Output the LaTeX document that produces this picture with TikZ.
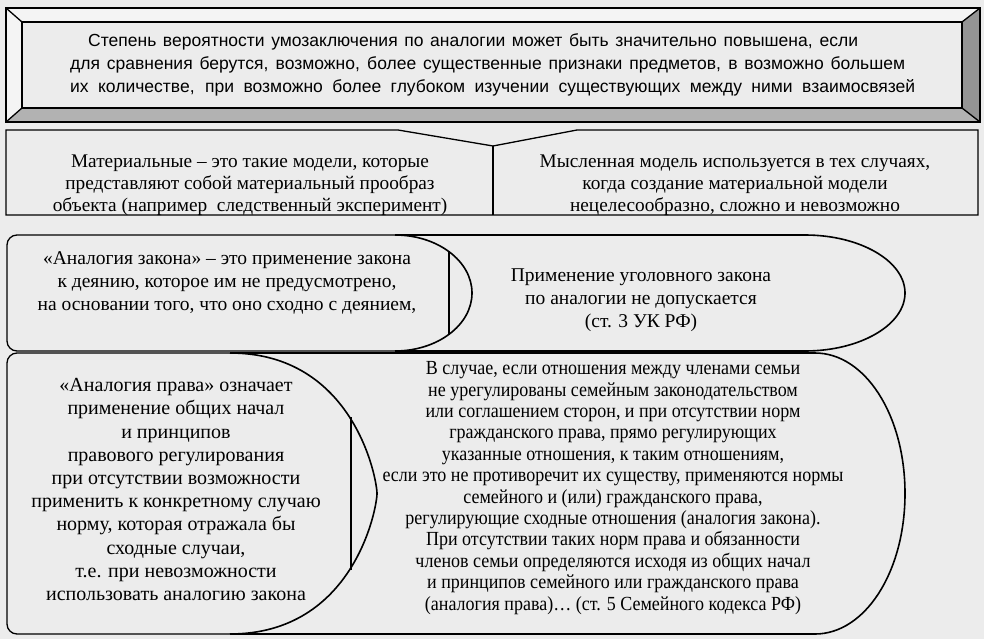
\documentclass[tikz,border=0pt]{standalone}
\usepackage{fontspec}
\setmainfont{Liberation Serif}
\newfontfamily\sansf{Liberation Sans}
\newfontfamily\condf[FakeStretch=0.9]{Liberation Serif}
\definecolor{bgc}{RGB}{236,236,236}
\definecolor{bevlight}{RGB}{244,244,244}
\begin{document}
\begin{tikzpicture}[x=1pt,y=-1pt,
  box/.style={draw=black, line width=1.3pt},
  curve/.style={draw=black, line width=1.6pt},
  txt/.style={align=center, inner sep=0pt, text=black}]
\fill[bgc] (0,0) rectangle (984,639);
\useasboundingbox (0,0) rectangle (984,639);
% top bevelled box
\fill[bevlight] (6,8) -- (980,8) -- (962,22) -- (22,22) -- (22,108) -- (6,122) -- cycle;
\fill[black!42] (962,22) -- (980,8) -- (980,122) -- (962,108) -- cycle;
\fill[black!30] (22,108) -- (962,108) -- (980,122) -- (6,122) -- cycle;
\draw[box] (6,8) rectangle (980,122);
\draw[box] (22,22) rectangle (962,108);
\draw[box] (6,8) -- (22,22) (980,8) -- (962,22) (980,122) -- (962,108) (6,122) -- (22,108);
\node[txt, align=left, anchor=west, font=\sansf\fontsize{17.5}{23}\selectfont] (t0) at (70,65)
 {\hspace*{18pt}\makebox[770pt][s]{Степень вероятности умозаключения по аналогии может быть значительно повышена, если}\\
  \makebox[835pt][s]{для сравнения берутся, возможно, более существенные признаки предметов, в возможно большем}\\
  \makebox[845pt][s]{их количестве, при возможно более глубоком изучении существующих между ними взаимосвязей}};
% row 2
\draw[box] (6,130) -- (398,130) -- (493,146) -- (577,130) -- (978,130) -- (978,215) -- (6,215) -- cycle;
\draw[box] (493,146) -- (493,215);
\node[txt, font=\fontsize{19.3}{22}\selectfont] (r2l) at (250,185)
 {Материальные – это такие модели, которые\\
  представляют собой материальный прообраз\\
  объекта (например~ следственный эксперимент)};
\node[txt, font=\fontsize{19.3}{22}\selectfont] (r2r) at (735,185)
 {Мысленная модель используется в тех случаях,\\
  когда создание материальной модели\\
  нецелесообразно, сложно и невозможно};
% row 3
\draw[box, rounded corners=10pt] (395,235) -- (7,235) -- (7,351) -- (395,351);
\draw[box] (395,235) -- (805,235) (395,351) -- (805,351);
\draw[curve] (395,235) .. controls (437.5,235) and (472,261) .. (472,293)
  .. controls (472,325) and (437.5,351) .. (395,351);
\draw[curve] (805,235) .. controls (860,235) and (905,261) .. (905,293)
  .. controls (905,325) and (860,351) .. (805,351);
\draw[box] (449,251) -- (449,335);
\node[txt, font=\fontsize{19.5}{23.3}\selectfont] (r3l) at (227,283)
 {«Аналогия закона» – это применение закона\\
  к деянию, которое им не предусмотрено,\\
  на основании того, что оно сходно с деянием,};
\node[txt, font=\fontsize{19.5}{23.3}\selectfont] (r3r) at (641,300)
 {Применение уголовного закона\\
  по аналогии не допускается\\
  (ст. 3 УК РФ)};
% row 4
\draw[box, rounded corners=10pt] (230,353) -- (7,353) -- (7,634) -- (230,634);
\draw[box] (230,353) -- (815,353) (230,634) -- (815,634);
\draw[curve] (230,353) .. controls (354,353) and (377,479) .. (377,493.5)
  .. controls (377,508) and (354,634) .. (230,634);
\draw[curve] (815,353) .. controls (865,353) and (905,415) .. (905,493.5)
  .. controls (905,572) and (865,634) .. (815,634);
\draw[box] (351,417) -- (351,570);
\node[txt, font=\fontsize{20}{23.2}\selectfont] (r4l) at (176,489.5)
 {«Аналогия права» означает\\
  применение общих начал\\
  и принципов\\
  правового регулирования\\
  при отсутствии возможности\\
  применить к конкретному случаю\\
  норму, которая отражала бы\\
  сходные случаи,\\
  т.е. при невозможности\\
  использовать аналогию закона};
\node[txt, font=\condf\fontsize{20}{21.4}\selectfont] (r4r) at (613,488)
 {В случае, если отношения между членами семьи\\
  не урегулированы семейным законодательством\\
  или соглашением сторон, и при отсутствии норм\\
  гражданского права, прямо регулирующих\\
  указанные отношения, к таким отношениям,\\
  если это не противоречит их существу, применяются нормы\\
  семейного и (или) гражданского права,\\
  регулирующие сходные отношения (аналогия закона).\\
  При отсутствии таких норм права и обязанности\\
  членов семьи определяются исходя из общих начал\\
  и принципов семейного или гражданского права\\
  (аналогия права)… (ст. 5 Семейного кодекса РФ)};
\end{tikzpicture}
\end{document}
